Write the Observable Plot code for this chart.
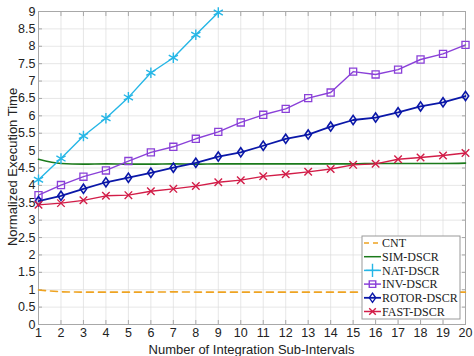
<!DOCTYPE html>
<html>
<head>
<meta charset="utf-8">
<script src="https://cdn.jsdelivr.net/npm/d3@7"></script>
<script src="https://cdn.jsdelivr.net/npm/@observablehq/plot@0.6"></script>
<style>
  html, body { margin: 0; padding: 0; background: #fff; }
  #chart { width: 474px; height: 356px; position: relative; }
</style>
</head>
<body>
<div id="chart"></div>
<script>
const xValues = [1, 2, 3, 4, 5, 6, 7, 8, 9, 10, 11, 12, 13, 14, 15, 16, 17, 18, 19, 20];
const natX = [1, 2, 3, 4, 5, 6, 7, 8, 9];

const cnt   = [0.99, 0.94, 0.93, 0.93, 0.93, 0.93, 0.94, 0.93, 0.93, 0.93, 0.93, 0.93, 0.93, 0.93, 0.93, 0.93, 0.93, 0.93, 0.93, 0.93];
const sim   = [4.75, 4.63, 4.61, 4.62, 4.61, 4.61, 4.62, 4.61, 4.62, 4.62, 4.62, 4.62, 4.62, 4.62, 4.62, 4.63, 4.63, 4.63, 4.63, 4.64];
const nat   = [4.16, 4.77, 5.42, 5.93, 6.53, 7.24, 7.67, 8.33, 8.97];
const inv   = [3.72, 4.01, 4.25, 4.43, 4.70, 4.95, 5.11, 5.34, 5.54, 5.81, 6.03, 6.20, 6.51, 6.67, 7.27, 7.19, 7.33, 7.62, 7.78, 8.04];
const rotor = [3.55, 3.70, 3.90, 4.09, 4.22, 4.36, 4.51, 4.65, 4.83, 4.95, 5.14, 5.34, 5.46, 5.69, 5.88, 5.95, 6.10, 6.27, 6.39, 6.57];
const fast  = [3.44, 3.49, 3.57, 3.70, 3.72, 3.83, 3.90, 3.98, 4.09, 4.15, 4.26, 4.32, 4.39, 4.47, 4.59, 4.62, 4.75, 4.80, 4.86, 4.93];

const seriesNames = ["CNT", "SIM-DSCR", "NAT-DSCR", "INV-DSCR", "ROTOR-DSCR", "FAST-DSCR"];
const xTicks = xValues;
const yTicks = [0, 0.5, 1, 1.5, 2, 2.5, 3, 3.5, 4, 4.5, 5, 5.5, 6, 6.5, 7, 7.5, 8, 8.5, 9];

const colors = {
  "CNT": "#eea321",
  "SIM-DSCR": "#1b7a1b",
  "NAT-DSCR": "#25b6e6",
  "INV-DSCR": "#8a40d8",
  "ROTOR-DSCR": "#0a17a8",
  "FAST-DSCR": "#d21d48"
};

const tall = {
  draw(ctx, size) {
    const r = Math.sqrt(size / Math.PI);
    const w = r * 0.8, h = r * 1.15;
    ctx.moveTo(0, -h); ctx.lineTo(w, 0); ctx.lineTo(0, h); ctx.lineTo(-w, 0); ctx.closePath();
  }
};

const toRows = (xs, ys) => xs.map((x, i) => ({x, y: ys[i]}));
const cntData = toRows(xValues, cnt);
const simData = toRows(xValues, sim);
const natData = toRows(natX, nat);
const invData = toRows(xValues, inv);
const rotorData = toRows(xValues, rotor);
const fastData = toRows(xValues, fast);

const tickFont = "Liberation Sans, Arial, sans-serif";
const fmt = d => String(d);

const plot = Plot.plot({
  width: 474,
  height: 356,
  marginLeft: 38,
  marginRight: 9,
  marginTop: 11,
  marginBottom: 32,
  style: {fontFamily: tickFont, fontSize: "12.5px", color: "#222", background: "#fff"},
  x: {domain: [1, 20]},
  y: {domain: [0, 9]},
  marks: [
    Plot.gridX(xTicks, {stroke: "#dcdcdc", strokeOpacity: 1, strokeWidth: 0.7}),
    Plot.gridY(yTicks, {stroke: "#dcdcdc", strokeOpacity: 1, strokeWidth: 0.7}),
    Plot.frame({stroke: "#a8a8a8", strokeWidth: 1}),
    Plot.axisX({ticks: xTicks, anchor: "bottom", tickSize: -4, stroke: "#a8a8a8", tickPadding: 8, tickFormat: fmt, label: null, fontSize: 12.5, fill: "#222"}),
    Plot.axisX({ticks: xTicks, anchor: "top", tickSize: -4, stroke: "#a8a8a8", tickFormat: () => "", label: null}),
    Plot.axisY({ticks: yTicks, anchor: "left", tickSize: -4, stroke: "#a8a8a8", tickPadding: 7, tickFormat: fmt, label: null, fontSize: 12.5, fill: "#222"}),
    Plot.axisY({ticks: yTicks, anchor: "right", tickSize: -4, stroke: "#a8a8a8", tickFormat: () => "", label: null}),

    Plot.line(cntData, {x: "x", y: "y", stroke: colors["CNT"], strokeWidth: 1.6, strokeDasharray: "7,5"}),
    Plot.line(simData, {x: "x", y: "y", stroke: colors["SIM-DSCR"], strokeWidth: 1.6, curve: "monotone-x"}),
    Plot.line(natData, {x: "x", y: "y", stroke: colors["NAT-DSCR"], strokeWidth: 1.4}),
    Plot.dot(natData, {x: "x", y: "y", stroke: colors["NAT-DSCR"], symbol: "asterisk", r: 5, strokeWidth: 1.4}),
    Plot.line(invData, {x: "x", y: "y", stroke: colors["INV-DSCR"], strokeWidth: 1.4}),
    Plot.dot(invData, {x: "x", y: "y", stroke: colors["INV-DSCR"], fill: "none", symbol: "square", r: 4, strokeWidth: 1.3}),
    Plot.line(rotorData, {x: "x", y: "y", stroke: colors["ROTOR-DSCR"], strokeWidth: 1.8}),
    Plot.dot(rotorData, {x: "x", y: "y", stroke: colors["ROTOR-DSCR"], fill: "none", symbol: tall, r: 4, strokeWidth: 1.6}),
    Plot.line(fastData, {x: "x", y: "y", stroke: colors["FAST-DSCR"], strokeWidth: 1.4}),
    Plot.dot(fastData, {x: "x", y: "y", stroke: colors["FAST-DSCR"], symbol: "times", r: 3.5, strokeWidth: 1.4})
  ]
});

document.getElementById("chart").appendChild(plot);

const svg = d3.select(plot);

// Axis titles
svg.append("text").attr("x", 251.5).attr("y", 349).attr("dy", "0.35em")
  .attr("text-anchor", "middle").attr("font-family", tickFont).attr("font-size", 13)
  .attr("fill", "#222").text("Number of Integration Sub-Intervals");
svg.append("text").attr("transform", "translate(12,167) rotate(-90)").attr("dy", "0.35em")
  .attr("text-anchor", "middle").attr("font-family", tickFont).attr("font-size", 13)
  .attr("fill", "#222").text("Normalized Execution Time");

// Legend inside plot area (bottom-right), built from the series names
const lg = svg.append("g").attr("transform", "translate(362,236)");
lg.append("rect").attr("width", 98).attr("height", 83).attr("fill", "#fff").attr("stroke", "#9a9a9a").attr("stroke-width", 1);
const legendSymbols = {
  "CNT": null, "SIM-DSCR": null,
  "NAT-DSCR": d3.symbol(d3.symbolPlus, 60),
  "INV-DSCR": d3.symbol(d3.symbolSquare, 42),
  "ROTOR-DSCR": d3.symbol(tall, 50),
  "FAST-DSCR": d3.symbol(d3.symbolTimes, 30)
};
seriesNames.forEach((name, i) => {
  const row = lg.append("g").attr("transform", `translate(0,${7 + i * 13.7})`);
  row.append("line").attr("x1", 2).attr("x2", 19).attr("y1", 0).attr("y2", 0)
    .attr("stroke", colors[name]).attr("stroke-width", name === "ROTOR-DSCR" ? 1.8 : 1.5)
    .attr("stroke-dasharray", name === "CNT" ? "5,4" : null);
  if (legendSymbols[name]) {
    row.append("path").attr("d", legendSymbols[name]()).attr("transform", "translate(10.5,0)")
      .attr("fill", "none").attr("stroke", colors[name]).attr("stroke-width", 1.4);
  }
  row.append("text").attr("x", 20).attr("y", 0).attr("dy", "0.35em")
    .attr("text-anchor", "start")
    .attr("font-family", "Liberation Serif, DejaVu Serif, serif").attr("font-size", 12)
    .attr("fill", "#222").text(name);
});
</script>
</body>
</html>
